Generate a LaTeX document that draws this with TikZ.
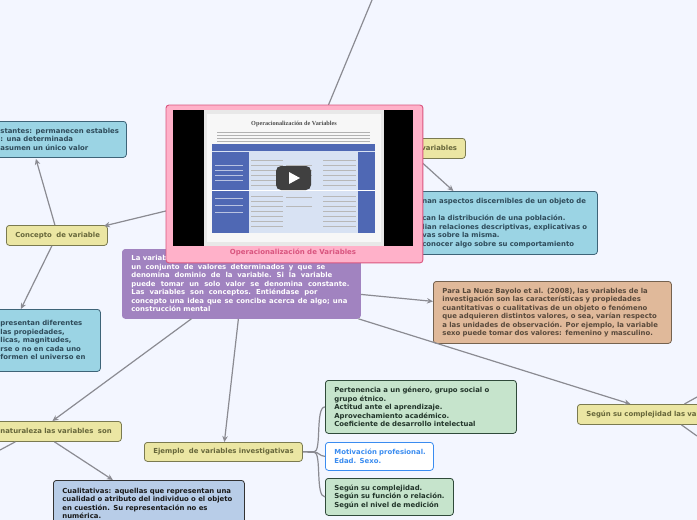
\documentclass[tikz,border=0pt]{standalone}
\usepackage{fontspec}
\setmainfont{DejaVu Sans}[BoldFont={DejaVu Sans Bold}]
\newfontfamily\slidefont{Liberation Serif}
\usetikzlibrary{arrows.meta}
\definecolor{bgc}{HTML}{F3F6FF}
\definecolor{linkc}{HTML}{8B8B92}
\definecolor{purp}{HTML}{A183C0}
\definecolor{pinkf}{HTML}{FFB1C9}
\definecolor{pinkd}{HTML}{D9557F}
\definecolor{cyanf}{HTML}{9BD4E4}
\definecolor{cyand}{HTML}{3E6478}
\definecolor{yelf}{HTML}{EBE6A3}
\definecolor{yeld}{HTML}{7A7A50}
\definecolor{yelt}{HTML}{66663A}
\definecolor{grnf}{HTML}{C6E4CC}
\definecolor{grnd}{HTML}{2F4A3A}
\definecolor{brnf}{HTML}{E0B99A}
\definecolor{brnd}{HTML}{75624F}
\definecolor{bluf}{HTML}{B8CDE8}
\definecolor{whtd}{HTML}{3A8CF0}
\definecolor{slideb}{HTML}{4F68B4}
\definecolor{slidel}{HTML}{D8E2F3}
\tikzset{
  box/.style={draw,rounded corners=3pt,line width=.8pt,anchor=north west,align=left,
    inner xsep=9pt,inner ysep=0pt,font=\fontsize{6.9}{8.5}\selectfont\bfseries},
  cyanbox/.style={box,fill=cyanf,draw=cyand,text=cyand!75!black},
  yelbox/.style={box,fill=yelf,draw=yeld,text=yelt},
  grnbox/.style={box,fill=grnf,draw=grnd,text=grnd!70!black},
  brnbox/.style={box,fill=brnf,draw=brnd,text=brnd!75!black},
  blubox/.style={box,fill=bluf,draw=black!80,text=black!90},
  whtbox/.style={box,fill=white,draw=whtd,text=whtd},
  purbox/.style={box,fill=purp,draw=purp,text=white},
  lnk/.style={draw=linkc,line width=1.2pt},
  arr/.style={lnk,-{Stealth[length=6pt,width=5.5pt]}},
}
\newcommand{\jl}[2]{\leavevmode\hbox to #1pt{#2}}
\newcommand{\jg}{\hfil\ }
\newcommand{\bl}[1]{\mbox{#1}}
\begin{document}
\begin{tikzpicture}[x=1pt,y=-1pt]
\useasboundingbox (0,0) rectangle (697,520);
\clip (0,0) rectangle (697,520);
\fill[bgc] (0,0) rectangle (697,520);
% nodes
\node[purbox,text width=220pt,minimum height=69pt] (main) at (122,249)
 {La variab\\\jl{194}{un\jg conjunto\jg de\jg valores\jg determinados\jg y\jg que\jg se}\\\jl{201}{denomina\jg dominio\jg de\jg la\jg variable.\jg Si\jg la\jg variable}\\\jl{218}{puede\jg tomar\jg un\jg solo\jg valor\jg se\jg denomina\jg constante.}\\\jl{186}{Las\jg variables\jg son\jg conceptos.\jg Entiéndase\jg por}\\\jl{216}{concepto\jg una\jg idea\jg que\jg se\jg concibe\jg acerca\jg de\jg algo;\jg una}\\construcción mental};
\node[yelbox,text width=83pt,minimum height=20pt] (concept) at (6,225) {\bl{Concepto\ \ de variable}};
\node[cyanbox,text width=117pt,minimum height=36pt] (const) at (-9,121) {\bl{stantes: permanecen estables}\\: una determinada\\asumen un único valor};
\node[cyanbox,text width=91pt,minimum height=62pt] (pres) at (-9,309) {presentan diferentes\\las propiedades,\\licas, magnitudes,\\rse o no en cada uno\\\bl{formen el universo en}\\[8.5pt]};
\node[yelbox,text width=35pt,minimum height=20pt] (vars) at (412,138) {variables};
\node[cyanbox,text width=166pt,minimum height=63pt] (disc) at (413,191) {\bl{nan aspectos discernibles de un objeto de}\\[8.5pt]can la distribución de una población.\\\bl{lian relaciones descriptivas, explicativas o}\\vas sobre la misma.\\conocer algo sobre su comportamiento};
\node[brnbox,text width=220pt,minimum height=62pt] (para) at (433,281) {Para La Nuez Bayolo et al. (2008), las variables de la\\investigación son las características y propiedades\\cuantitativas o cualitativas de un objeto o fenómeno\\que adquieren distintos valores, o sea, varían respecto\\a las unidades de observación. Por ejemplo, la variable\\sexo puede tomar dos valores: femenino y masculino.};
\node[yelbox,text width=130pt,minimum height=20pt] (compl) at (577,404) {Según su complejidad las va};
\node[yelbox,text width=112pt,minimum height=20pt] (natur) at (-9,421) {naturaleza las variables\ \ son};
\node[blubox,text width=173pt,minimum height=46pt] (cual) at (53,480) {Cualitativas: aquellas que representan una\\cualidad o atributo del individuo o el objeto\\en cuestión. Su representación no es\\numérica.\\[8.5pt]};
\node[yelbox,text width=140pt,minimum height=19pt] (ejem) at (144,442) {\bl{Ejemplo\ \ de variables investigativas}};
\node[grnbox,text width=173pt,minimum height=53pt] (g1) at (325,380) {Pertenencia a un género, grupo social o\\grupo étnico.\\Actitud ante el aprendizaje.\\Aprovechamiento académico.\\Coeficiente de desarrollo intelectual};
\node[whtbox,text width=90pt,minimum height=28pt] (w1) at (325,442) {\bl{Motivación profesional.}\\Edad. Sexo.};
\node[grnbox,text width=110pt,minimum height=37pt] (g2) at (325,478) {Según su complejidad.\\\bl{Según su función o relación.}\\Según el nivel de medición};
% free ends
\coordinate (topend) at (372,0);
\coordinate (complu) at (697,397);
\coordinate (compld) at (697,436);
\coordinate (naturd) at (0,450);
\coordinate (fork) at (314,452);
% video node
\node[draw=pinkd,fill=pinkf,rounded corners=3pt,line width=.9pt,minimum width=256pt,minimum height=157pt,anchor=north west,inner sep=0pt] (video) at (166,105) {};
% connectors
\draw[lnk] ([xshift=34pt]video.north) -- (topend);
\draw[arr] ([yshift=-27pt]video.west) -- ([xshift=47pt,yshift=-1pt]concept.north);
\draw[arr] ([xshift=-2pt]concept.north) -- ([xshift=-23pt,yshift=-1pt]const.south);
\draw[arr] ([xshift=-5pt]concept.south) -- ([xshift=-25pt]pres.north);
\draw[arr] ([xshift=-21pt]vars.south) -- ([xshift=-52pt]disc.north);
\draw[arr] ([yshift=-10.5pt]main.east) -- ([yshift=11pt]para.west);
\draw[arr] ([xshift=117pt]main.south) -- ([xshift=-21pt]compl.north);
\draw[lnk] ([xshift=33pt]compl.north) -- (complu);
\draw[lnk] ([xshift=30pt]compl.south) -- (compld);
\draw[arr] ([xshift=-50pt]main.south) -- ([xshift=-4pt]natur.north);
\draw[lnk] ([xshift=-41pt]natur.south) -- (naturd);
\draw[arr] ([xshift=-2pt]natur.south) -- ([xshift=-36pt]cual.north);
\draw[arr] ([xshift=-3pt]main.south) -- ([xshift=1pt]ejem.north);
\draw[lnk,line width=1.6pt] (ejem.east) -- (fork);
\draw[lnk] (fork) .. controls (322,452) and (315,407) .. (g1.west);
\draw[lnk] (fork) .. controls (319,452) and (319,456) .. (w1.west);
\draw[lnk] (fork) .. controls (322,452) and (315,497) .. (g2.west);
% video face
\fill[draw=pinkd,line width=.9pt,fill=pinkf,rounded corners=3pt] (video.north west) rectangle (video.south east);
\fill[black] (173,110) rectangle (413,246);
\fill[black!9] (204,110) rectangle (384,246);
\fill[black!3] (207,114) rectangle (381,242);
\node[font=\slidefont\fontsize{6.2}{7}\selectfont\bfseries,text=black!70,inner sep=0pt] (slidetitle) at (294,124) {Operacionalización de Variables};
\foreach \yy in {132,135,138,141}{\draw[draw=black!30,line width=.55pt] (217,\yy) -- (370,\yy);}
\fill[slidel] (212,144) rectangle (375,233);
\fill[slideb] (212,144) rectangle (375,151);
\fill[slideb] (212,152) rectangle (249,190);
\fill[slideb] (212,191) rectangle (249,233);
\fill[slideb] (358,152) rectangle (375,233);
\fill[white] (212,190) rectangle (375,191);
\foreach \yy in {160,165,170,175,180,185,196,201,206,211,216,221,226}{
  \draw[draw=black!28,line width=.7pt] (251,\yy) -- (283,\yy);
  \draw[draw=black!28,line width=.7pt] (323,\yy) -- (356,\yy);}
\foreach \yy in {165,170,175,197,206}{\draw[draw=black!28,line width=.7pt] (286,\yy) -- (312,\yy);}
\foreach \yy in {165,170,175,180,198,205,212}{\draw[draw=white!60!slideb,line width=.7pt] (215,\yy) -- (243,\yy);}
\fill[black!75,rounded corners=5pt] (276,166) rectangle (311,190);
\fill[white] (289,172) -- (300,178) -- (289,184) -- cycle;
\node[font=\fontsize{7}{8}\selectfont\bfseries,text=pinkd,inner sep=0pt] (caption) at (293,252.5) {Operacionalización de Variables};
\end{tikzpicture}
\end{document}
